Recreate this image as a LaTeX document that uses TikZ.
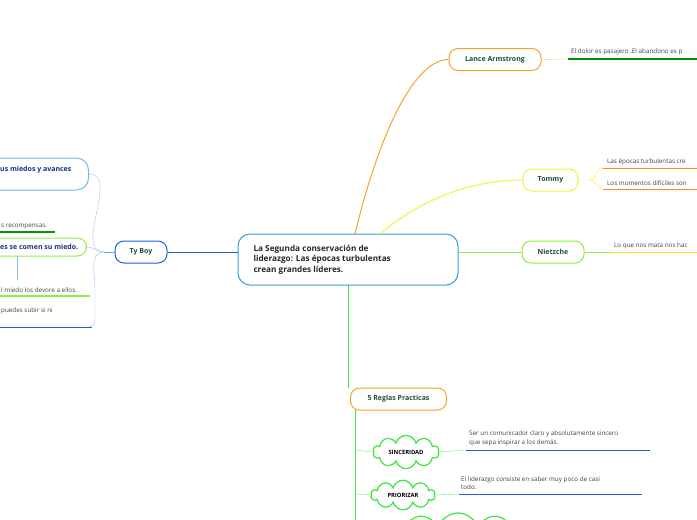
\documentclass[tikz,border=0pt]{standalone}
\usepackage{fontspec}
\setmainfont{Open Sans}
\usetikzlibrary{shapes.symbols}
\definecolor{dg}{HTML}{1F4E3D}
\definecolor{cb}{HTML}{3A9AD9}
\definecolor{bl}{HTML}{1A5FE6}
\definecolor{or}{HTML}{F5A52A}
\definecolor{ye}{HTML}{F2F23A}
\definecolor{lg}{HTML}{90F03A}
\definecolor{gr}{HTML}{3CE63C}
\definecolor{ul}{HTML}{FF8A1A}
\begin{document}
\begin{tikzpicture}[x=1pt,y=-1pt,
 topic/.style={draw,rounded corners=9pt,line width=1pt,fill=white,font=\fontsize{7}{8}\selectfont\bfseries,text=dg,minimum height=22pt,inner xsep=8pt},
 leaf/.style={font=\fontsize{6.3}{8.5}\selectfont,text=black!75,anchor=south west,inner sep=1pt,align=left},
 cl/.style={cloud,cloud puffs=10,aspect=2.4,draw=gr,line width=1.2pt,fill=white,font=\fontsize{5.8}{6}\selectfont\bfseries,inner sep=1pt}]
\useasboundingbox (0,0) rectangle (697,520);
\begin{scope}
\clip (0,0) rectangle (697,520);
% central
\node[draw=cb,line width=1pt,rounded corners=12pt,fill=white,minimum width=220pt,minimum height=51pt] (c) at (348,259.5) {};
\node[anchor=west,align=left,font=\fontsize{8.2}{10.5}\selectfont\bfseries,text=black!85] (ct) at (250,259.5) {La Segunda conservación de\\liderazgo: Las épocas turbulentas\\crean grandes líderes.};
% Lance
\node[topic,draw=or,minimum width=92pt] (la) at (495,59.5) {Lance Armstrong};
\draw[or,line width=1pt] (355,234) .. controls (375,150) and (410,60) .. (la.west);
\coordinate (la1) at (568,59);
\draw[or!60] (la.east) -- (la1);
\draw[green!55!black,line width=1.2pt] (la1) -- (697,59);
\node[leaf] (lat) at (570,56) {El dolor es pasajero .El abandono es p};
% Tommy
\node[topic,draw=ye,minimum width=55pt] (to) at (550.5,180) {Tommy};
\draw[ye,line width=1pt] (380,234) .. controls (420,200) and (470,180) .. (to.west);
\coordinate (t1) at (603,168);\coordinate (t2) at (603,189);
\draw[ye] (to.east) -- (590,180) to[out=0,in=180] (t1);
\draw[ye] (590,180) to[out=0,in=180] (t2);
\draw[ul,line width=1pt] (t1) -- (697,168);
\draw[ul,line width=1pt] (t2) -- (697,189);
\node[leaf] (tt1) at (606,166) {Las épocas turbulentas cre};
\node[leaf] (tt2) at (606,187) {Los momentos difíciles son};
% Nietzche
\node[topic,draw=lg,minimum width=62pt] (ni) at (553,252) {Nietzche};
\draw[lg,line width=1pt] (c.east|-ni) -- (ni.west);
\coordinate (n1) at (610,252);
\draw[lg] (ni.east) -- (n1);
\draw[ye!90!orange,line width=1pt] (n1) -- (697,252);
\node[leaf] (nt) at (613,250) {Lo que nos mata nos hac};
% Ty Boy
\node[topic,draw=bl,minimum width=52pt] (ty) at (141,252) {Ty Boy};
\draw[bl,line width=1pt] (c.west|-ty) -- (ty.east);
\coordinate (tb) at (104,252);
\draw[bl!60] (ty.west) -- (tb);
\node[topic,draw=cb!70,minimum width=130pt,minimum height=32pt,anchor=east,rounded corners=12pt,text=dg!60!blue] (b1) at (89,174) {};
\node[anchor=west,inner sep=0pt,font=\fontsize{7}{8}\selectfont\bfseries,text=dg!60!blue] (b1t) at (0,170) {us miedos y avances};
\node[topic,draw=lg,minimum width=120pt,minimum height=18pt,anchor=east] (b2) at (87,247) {};
\node[anchor=west,inner sep=0pt,font=\fontsize{7}{8}\selectfont\bfseries,text=dg!60!blue] (b2t) at (0,247) {es se comen su miedo.};
\draw[bl!40] (tb) to[out=180,in=0] (b1.east);
\draw[bl!40] (tb) to[out=180,in=0] (b2.east);
\coordinate (u1) at (55,232);\coordinate (u2) at (90,296);\coordinate (u3) at (92,327);
\draw[green!60!black,line width=1.2pt] (0,232) -- (u1);
\node[leaf] (bt1) at (0,230) {s recompensas.};
\draw[cb!60] (17,256) -- (17,280);
\draw[lg,line width=1.2pt] (0,296) -- (u2);
\node[leaf] (bt2) at (0,294) {l miedo los devore a ellos.};
\draw[bl!40] (tb) to[out=180,in=90] (95,290) -- (95,320) to[out=-90,in=0] (88,327);
\draw[bl,line width=1pt] (0,327) -- (u3);
\node[leaf] (bt3) at (0,315) {puedes subir si ni};
% 5 reglas
\node[topic,draw=or,minimum width=96pt,anchor=west] (r) at (350,399) {5 Reglas Practicas};
\draw[gr,line width=1pt] (348,285) -- (348,388);
\draw[gr,line width=1pt] (355,410) -- (355,520);
\node[cl,minimum width=66pt,minimum height=26pt] (s1) at (406,452) {SINCERIDAD};
\node[cl,minimum width=64pt,minimum height=26pt] (s2) at (403,495) {PRIORIZAR};
\node[cl,minimum width=126pt,minimum height=34pt] (s3) at (458,530) {};
\draw[gr!70] (355,450) -- (s1.west);
\draw[gr!70] (355,494) -- (s2.west);
\coordinate (s1r) at (466,450);\coordinate (s2r) at (459,494);
\draw[gr!70] (s1.east) -- (s1r);
\draw[gr!70] (s2.east) -- (s2r);
\draw[bl,line width=1pt] (s1r) -- (650,450);
\draw[bl,line width=1pt] (s2r) -- (642,494);
\node[leaf] (st1) at (468,447) {Ser un comunicador claro y absolutamente sincero\\que sepa inspirar a los demás.};
\node[leaf] (st2) at (460,491) {El liderazgo consiste en saber muy poco de casi\\todo.};
\end{scope}
\end{tikzpicture}
\end{document}
